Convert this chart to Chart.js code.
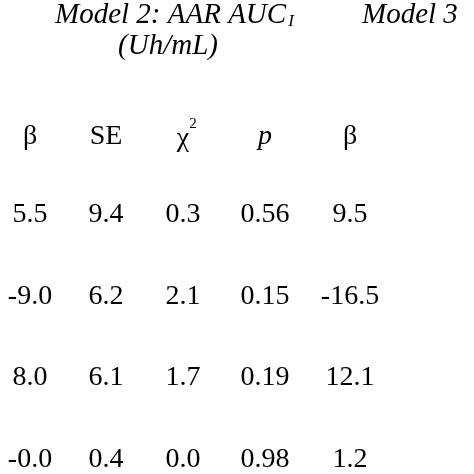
<!DOCTYPE html>
<html><head><meta charset="utf-8">
<script src="https://cdn.jsdelivr.net/npm/chart.js@4/dist/chart.umd.min.js"></script>
<style>html,body{margin:0;padding:0;background:#fff}#w{width:474px;height:474px}</style>
</head><body><div id="w"><canvas id="c"></canvas></div>
<script>
const headers = ["β","SE","χ2","p","β"];
const rowBeta = [5.5, -9.0, 8.0, -0.0];
const rowSE = [9.4, 6.2, 6.1, 0.4];
const rowChi = [0.3, 2.1, 1.7, 0.0];
const rowP = [0.56, 0.15, 0.19, 0.98];
const rowBeta3 = [9.5, -16.5, 12.1, 1.2];
const fmt = [1,1,1,2,1];
// layout
const colX = [30, 106, 183, 265, 350];
const rowY = [215, 297, 378, 460];
const headY = 137;
const F = '"Liberation Serif", "Times New Roman", serif';

const cols = [rowBeta, rowSE, rowChi, rowP, rowBeta3];
const tablePlugin = {
  id:'table',
  afterDraw(chart){
    const {ctx, scales:{x,y}} = chart;
    ctx.save(); ctx.fillStyle='#000'; ctx.textAlign='left'; ctx.textBaseline='middle';
    ctx.font='italic 29px '+F;
    ctx.fillText('Model 2: AAR AUC', x.getPixelForValue(55), y.getPixelForValue(15));
    const w = ctx.measureText('Model 2: AAR AUC').width;
    ctx.font='italic 17px '+F;
    ctx.fillText('I', x.getPixelForValue(55)+w+2, y.getPixelForValue(22));
    ctx.font='italic 29px '+F;
    ctx.textAlign='center';
    ctx.fillText('(Uh/mL)', x.getPixelForValue(168), y.getPixelForValue(46));
    ctx.textAlign='left';
    ctx.fillText('Model 3', x.getPixelForValue(362), y.getPixelForValue(15));
    ctx.textAlign='center';
    headers.forEach((h,i)=>{
      const px=x.getPixelForValue(colX[i]), py=y.getPixelForValue(headY);
      if(h==='χ2'){
        ctx.font='28px '+F; ctx.fillText('χ',px,py+2);
        ctx.font='15px '+F; ctx.fillText('2',px+10,py-13);
      } else if(h==='p'){
        ctx.font='italic 28px '+F; ctx.fillText(h,px,py);
      } else { ctx.font='28px '+F; ctx.fillText(h,px,py); }
    });
    ctx.font='28px '+F;
    cols.forEach((col,i)=>col.forEach((v,r)=>{
      let s = v.toFixed(fmt[i]); if(Object.is(v,-0)) s='-'+s;
      ctx.fillText(s, x.getPixelForValue(colX[i]), y.getPixelForValue(rowY[r]));
    }));
    ctx.restore();
  }
};
new Chart(document.getElementById('c'),{
  type:'scatter',
  data:{datasets:[{data:[]}]},
  options:{responsive:true,maintainAspectRatio:false,animation:false,
    layout:{padding:0},
    plugins:{legend:{display:false},tooltip:{enabled:false}},
    scales:{x:{type:'linear',min:0,max:474,display:false},
            y:{type:'linear',min:0,max:474,reverse:true,display:false}}},
  plugins:[tablePlugin]
});
</script></body></html>
